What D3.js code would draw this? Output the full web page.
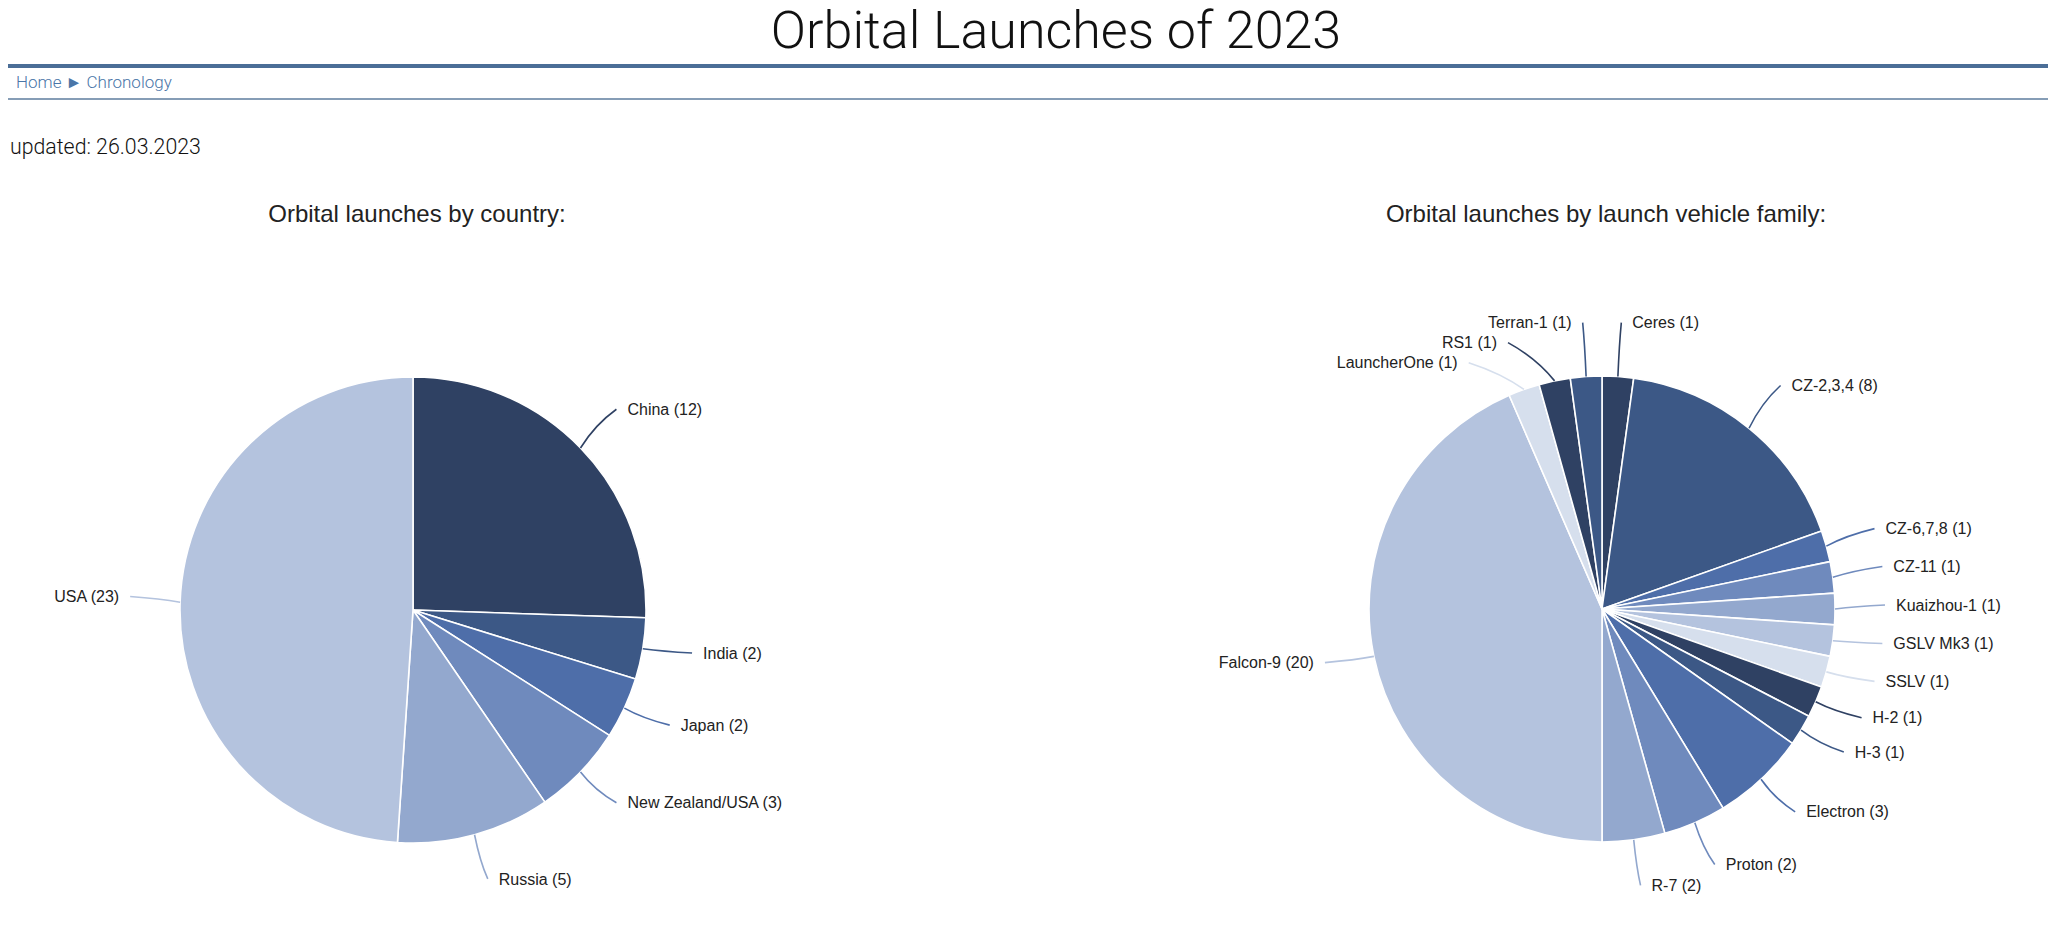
<!DOCTYPE html>
<html>
<head>
<meta charset="utf-8">
<title>Orbital Launches of 2023</title>
<script src="https://cdn.jsdelivr.net/npm/d3@7"></script>
<style>
  body { margin: 0; background: #fff; overflow: hidden; }
  svg { display: block; }
</style>
</head>
<body>
<svg id="page" width="2048" height="937"></svg>
<script>
// launches by country
const countryNames = ["China", "India", "Japan", "New Zealand/USA", "Russia", "USA"];
const countryLaunches = [12, 2, 2, 3, 5, 23];

// launches by launch vehicle family
const familyNames = ["Ceres", "CZ-2,3,4", "CZ-6,7,8", "CZ-11", "Kuaizhou-1", "GSLV Mk3", "SSLV",
  "H-2", "H-3", "Electron", "Proton", "R-7", "Falcon-9", "LauncherOne", "RS1", "Terran-1"];
const familyLaunches = [1, 8, 1, 1, 1, 1, 1, 1, 1, 3, 2, 2, 20, 1, 1, 1];

const palette = ["#2f4163", "#3c5886", "#4e6ea9", "#6f8abd", "#93a8ce", "#b4c3de", "#d6dfed"];

const radius = 233;
const labelRadius = 283;
const labelGap = 20;
const labelFont = "'Liberation Sans', Arial, sans-serif";

const svg = d3.select("#page");

// page header
svg.append("text")
  .attr("x", 1056).attr("y", 48)
  .attr("text-anchor", "middle")
  .style("font-family", "Roboto").style("font-weight", 300).style("font-size", "52px")
  .attr("fill", "#111")
  .text("Orbital Launches of 2023");

svg.append("line").attr("x1", 8).attr("x2", 2048).attr("y1", 66).attr("y2", 66)
  .attr("stroke", "#4b6e97").attr("stroke-width", 4);

svg.append("text")
  .attr("x", 16).attr("y", 88)
  .style("font-family", "Roboto").style("font-weight", 300).style("font-size", "17px")
  .attr("fill", "#4a76a8")
  .attr("xml:space", "preserve")
  .text("Home \u25BA Chronology");

svg.append("line").attr("x1", 8).attr("x2", 2048).attr("y1", 99).attr("y2", 99)
  .attr("stroke", "#5e7d9e").attr("stroke-width", 1.5);

svg.append("text")
  .attr("x", 10).attr("y", 154)
  .style("font-family", "Roboto").style("font-weight", 300).style("font-size", "21.3px")
  .attr("fill", "#111")
  .text("updated: 26.03.2023");

let drawPie = (names, values, cx, cy, title) => {
  const g = svg.append("g").attr("transform", `translate(${cx}, ${cy})`);

  svg.append("text")
    .attr("x", cx + 4).attr("y", 222)
    .attr("text-anchor", "middle")
    .style("font-family", labelFont).style("font-size", "24px")
    .attr("fill", "#222")
    .text(title);

  const slices = d3.pie().sort(null).value(d => d)(values);
  const arc = d3.arc().innerRadius(0).outerRadius(radius);

  g.selectAll("path.slice")
    .data(slices)
    .enter()
    .append("path")
    .attr("class", "slice")
    .attr("d", arc)
    .attr("fill", (d, i) => palette[i % palette.length])
    .attr("stroke", "#fff")
    .attr("stroke-width", 1.6)
    .attr("stroke-linejoin", "round");

  // label layout: natural spot on the label circle, then spread apart per side
  const labels = slices.map((d, i) => {
    const a = (d.startAngle + d.endAngle) / 2;
    return {
      i: i,
      a: a,
      side: Math.sin(a) >= 0 ? 1 : -1,
      x: Math.sin(a) * labelRadius,
      y: -Math.cos(a) * labelRadius,
      sx: Math.sin(a) * radius,
      sy: -Math.cos(a) * radius
    };
  });

  [1, -1].forEach(side => {
    const col = labels.filter(l => l.side === side).sort((p, q) => p.y - q.y);
    for (let k = 1; k < col.length; k++) {
      if (col[k].y - col[k - 1].y < labelGap) {
        col[k].y = col[k - 1].y + labelGap;
        const h = labelRadius * labelRadius - col[k].y * col[k].y;
        const onCircle = side * Math.sqrt(Math.max(h, 0));
        col[k].x = col[k].x * 0.25 + onCircle * 0.75;
      }
    }
  });

  labels.forEach(l => { l.y -= 4; });

  g.selectAll("path.leader")
    .data(labels)
    .enter()
    .append("path")
    .attr("class", "leader")
    .attr("d", l => {
      const dx = l.x - l.sx;
      const dy = l.y - l.sy;
      const qx = l.sx + dx * 0.4;
      const qy = l.sy + dy * 0.6;
      return `M${l.sx},${l.sy}Q${qx},${qy} ${l.x},${l.y}`;
    })
    .attr("fill", "none")
    .attr("stroke", l => palette[l.i % palette.length])
    .attr("stroke-width", 1.6);

  g.selectAll("text.label")
    .data(labels)
    .enter()
    .append("text")
    .attr("class", "label")
    .attr("x", l => l.x + l.side * 11)
    .attr("y", l => l.y)
    .attr("dy", "0.35em")
    .attr("text-anchor", l => l.side > 0 ? "start" : "end")
    .style("font-family", labelFont).style("font-size", "16px")
    .attr("fill", "#222")
    .text(l => `${names[l.i]} (${values[l.i]})`);
};

drawPie(countryNames, countryLaunches, 413, 610, "Orbital launches by country:");
drawPie(familyNames, familyLaunches, 1602, 609, "Orbital launches by launch vehicle family:");
</script>
</body>
</html>
